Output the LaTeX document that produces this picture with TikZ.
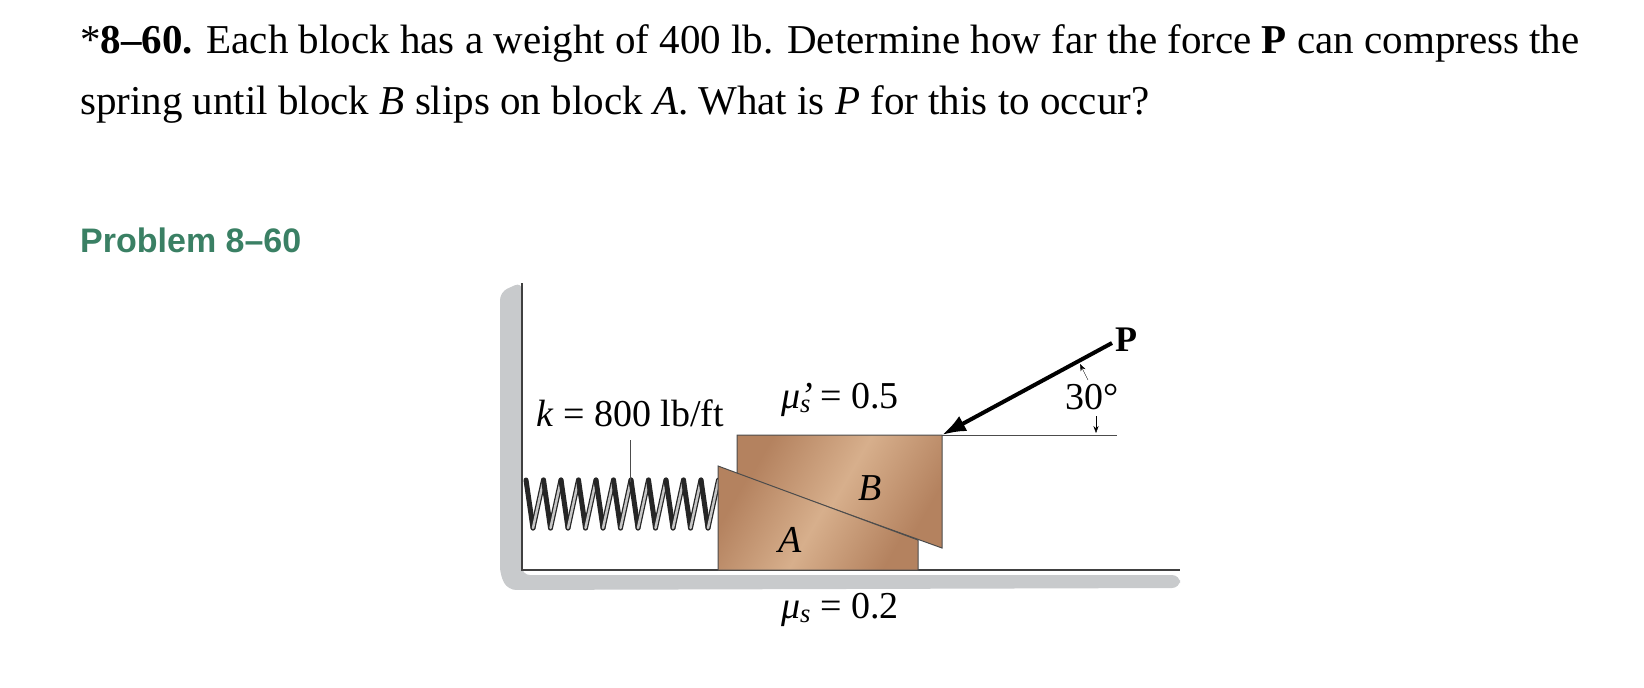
\documentclass[tikz,border=0pt]{standalone}
\usepackage{fontspec}
\setmainfont{Liberation Serif}
\newfontfamily\headfont{Liberation Sans}
\usetikzlibrary{arrows.meta,calc}
\definecolor{blockc}{RGB}{180,130,95}
\definecolor{blocklt}{RGB}{215,175,140}
\definecolor{headg}{RGB}{58,128,100}
\definecolor{shadowc}{RGB}{200,202,204}
\begin{document}
\begin{tikzpicture}[x=1pt,y=-1pt,
  lbl/.style={inner sep=0pt,font=\fontsize{38}{38}\selectfont},
  blk/.style={draw=black!70,line width=1pt,left color=blockc,right color=blockc,middle color=blocklt,shading angle=60}]
\useasboundingbox (0,0) rectangle (1644,688);
% text
\node[anchor=base west,inner sep=0pt,font=\fontsize{41}{41}\selectfont] (t1) at (80,53)
 {*\textbf{8--60.} Each block has a weight of 400 lb. Determine how far the force \textbf{P} can compress the};
\node[anchor=base west,inner sep=0pt,font=\fontsize{41}{41}\selectfont] (t2) at (80,114)
 {spring until block \textit{B} slips on block \textit{A}. What is \textit{P} for this to occur?};
\node[anchor=base west,inner sep=0pt,font=\headfont\bfseries\fontsize{34}{34}\selectfont,text=headg] (h) at (80,252) {Problem 8\textendash 60};
% shadows
\fill[shadowc,rounded corners=8pt] (500,292) -- (522,282) -- (522,575) -- (1180,575) -- (1180,588) -- (508,590) -- (500,575) -- cycle;
% ground and wall
\draw[line width=1.5pt,black!75] (522,283) -- (522,570) -- (1180,570);
% spring
\foreach \i in {0,...,10}{
  \pgfmathsetmacro\xx{526+\i*17.5}
  \draw[line width=5pt,black!85,line cap=round] (\xx,480) -- (\xx+7,528);
  \draw[line width=5pt,black!85,line cap=round] (\xx+7,528) -- (\xx+17.5,480);
  \draw[line width=2.5pt,gray!45,line cap=round] (\xx+7,528) -- (\xx+17.5,480);
}
% blocks
\draw[blk] (737,435) -- (942,435) -- (942,548) -- (737,474) -- cycle;
\draw[blk] (718,466) -- (918,540) -- (918,570) -- (718,570) -- cycle;
\node[lbl,font=\itshape\fontsize{38}{38}\selectfont] (B) at (870,488) {B};
\node[lbl,font=\itshape\fontsize{38}{38}\selectfont] (A) at (790,540) {A};
% labels
\node[lbl] (k) at (630,413) {\textit{k} = 800 lb/ft};
\coordinate (kl) at (630,482);
\draw[black!70] (630,440) -- (kl);
\node[lbl] (mu1) at (840,400) {\textit{μ}\makebox[0pt][l]{\textit{'}}\textsubscript{\textit{s}} = 0.5};
\node[lbl] (mu2) at (840,610) {\textit{μ}\textsubscript{\textit{s}} = 0.2};
% force
\coordinate (tip) at (942,435);
\coordinate (tail) at (1112,343);
\draw[line width=4pt,-{Latex[length=24pt,width=17pt]}] (tail) -- (tip);
\node[lbl,font=\bfseries\fontsize{36}{36}\selectfont] (P) at (1126,340) {P};
\coordinate (hr) at (1117,435);
\draw[black!70] (tip) -- (hr);
\node[lbl] (ang) at (1092,397) {30°};
\draw[-{Stealth[length=7pt]}] (1088,380) -- (1080,364);
\draw[-{Stealth[length=7pt]}] (1096,416) -- (1096,433);
\end{tikzpicture}
\end{document}
